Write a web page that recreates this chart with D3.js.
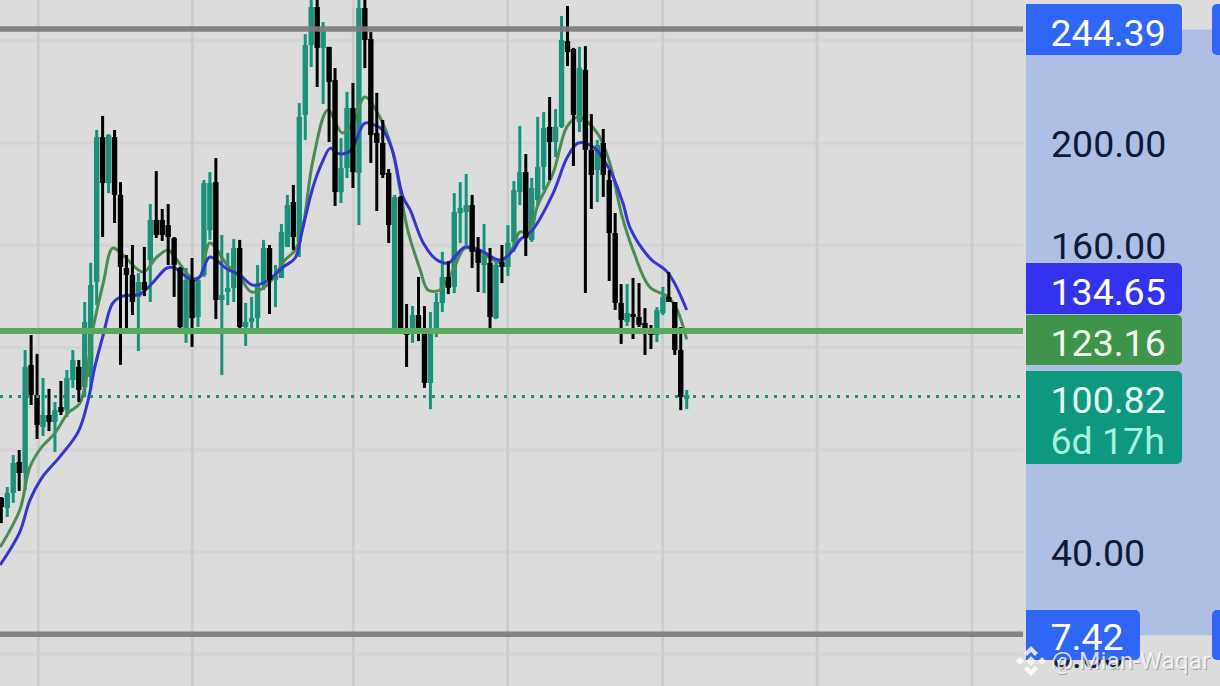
<!DOCTYPE html>
<html><head><meta charset="utf-8">
<script src="https://cdnjs.cloudflare.com/ajax/libs/d3/7.8.5/d3.min.js"></script>
<style>html,body{margin:0;padding:0;background:#dcdcdc;overflow:hidden}svg{display:block}text{font-family:Roboto,sans-serif}</style>
</head><body><svg id="c" width="1220" height="686"></svg>
<script>
// Candle data: 1 = up (teal), 0 = down (black); tops/bottoms are prices.
const ups=[0,1,1,0,1,0,0,1,0,1,0,1,1,0,1,1,1,0,1,0,0,0,0,1,0,1,0,0,0,0,0,1,0,1,1,1,0,1,1,1,0,1,1,1,1,0,1,1,1,0,1,1,1,0,1,0,0,1,1,0,1,0,0,0,0,0,1,0,0,1,0,0,1,1,1,0,1,1,1,0,0,1,0,1,0,1,1,1,0,1,1,1,0,1,1,0,0,1,0,0,1,0,0,0,0,1,0,0,0,0,1,1,0,0,0,1];
const highs=[61.5,65.4,77.9,79.9,119.0,124.9,117.5,108.1,103.8,98.7,106.9,111.2,119.0,115.1,137.8,153.1,205.1,210.6,203.5,205.1,184.7,156.2,160.1,149.1,159.3,176.1,189.0,174.2,176.1,163.2,151.5,151.1,155.0,147.2,185.5,188.6,194.1,164.0,157.0,162.4,162.1,137.4,139.8,152.3,162.1,160.1,152.3,168.3,179.7,183.6,215.6,242.6,257.9,257.9,247.3,237.6,229.3,201.9,220.0,223.5,257.9,257.9,243.4,219.6,209.0,189.8,179.7,179.3,137.0,136.2,147.6,136.2,133.9,141.3,157.4,153.8,180.4,184.7,187.9,179.7,163.2,168.3,158.9,153.4,160.1,167.9,185.1,206.6,195.7,186.3,210.2,212.1,218.0,213.3,249.7,253.6,237.2,237.6,237.9,211.3,201.2,205.5,189.4,172.6,144.8,144.8,147.2,145.2,135.4,128.8,135.8,143.7,149.5,137.8,128.0,103.4];
const bodyTops=[61.1,63.1,74.8,75.2,112.4,113.2,101.4,93.6,93.6,95.5,96.7,108.1,115.1,112.4,130.0,144.4,202.3,202.3,203.1,202.3,179.7,151.1,148.4,145.6,145.6,169.9,169.9,169.9,167.9,162.8,151.1,146.4,146.4,146.4,184.3,184.3,184.7,140.5,143.3,158.9,158.9,130.0,131.5,144.4,158.9,158.9,148.4,165.2,175.7,176.9,210.2,238.3,253.2,253.2,244.2,237.6,224.6,190.2,213.7,213.7,252.8,252.8,240.7,203.9,200.0,188.3,178.9,178.9,126.9,132.7,132.7,126.9,126.1,137.8,147.6,147.6,173.0,174.6,175.7,175.7,158.1,156.2,153.1,152.3,153.4,160.9,181.6,188.6,188.6,182.4,190.6,205.9,206.3,206.3,240.3,239.9,236.8,229.3,228.6,197.3,199.2,200.0,185.5,164.8,137.4,133.5,133.1,131.9,129.6,126.1,134.7,139.8,139.8,137.8,119.0,101.4];
const bodyBottoms=[57.6,57.2,63.1,70.9,70.9,101.4,89.7,88.9,90.9,90.9,94.8,95.5,107.3,103.4,104.5,108.5,145.6,184.3,184.3,179.7,151.5,148.4,137.8,139.8,142.5,154.2,164.0,164.0,163.2,152.3,128.0,126.9,131.5,131.9,148.4,165.9,138.6,138.6,141.7,143.3,128.0,128.0,130.0,131.5,144.4,146.4,146.4,147.2,159.3,163.2,161.3,211.0,238.3,237.2,237.2,223.9,180.8,180.8,190.2,188.6,188.3,240.3,203.1,200.0,187.5,167.9,127.6,127.6,124.9,126.1,126.1,106.1,106.1,127.6,137.4,143.3,143.7,172.6,173.0,157.4,153.1,152.3,131.9,131.5,151.5,151.5,161.3,180.8,162.8,162.1,177.7,190.6,200.4,200.4,206.3,235.6,211.0,208.2,197.3,187.5,189.4,187.5,164.8,137.4,130.8,130.0,131.9,128.8,127.6,124.9,124.9,133.5,137.8,119.0,100.6,99.9];
const lows=[51.3,53.7,59.2,63.9,64.3,97.5,84.2,85.4,87.3,79.1,93.6,92.8,104.2,98.7,100.6,103.4,136.6,163.2,180.4,168.7,113.2,127.6,132.7,118.6,140.1,137.8,162.8,161.7,152.3,139.8,127.6,121.8,120.2,128.0,147.6,162.1,131.1,109.2,136.6,137.8,127.6,120.6,126.9,127.6,142.5,133.1,135.8,147.2,159.3,158.1,155.4,201.2,229.7,221.9,215.3,200.4,175.4,176.5,186.3,182.4,167.9,229.3,192.2,173.4,186.3,160.9,127.6,126.9,112.4,121.8,122.5,104.2,95.9,124.1,133.9,140.9,141.3,160.9,160.1,151.1,141.7,141.3,127.6,131.1,145.2,148.0,157.4,175.7,155.8,161.3,175.7,181.6,185.5,194.5,205.9,230.1,191.0,204.3,141.3,174.2,176.9,178.9,146.0,134.7,121.4,128.4,123.3,128.0,117.1,119.4,122.1,132.7,137.8,117.1,95.5,95.9];

// Moving averages, read at candle positions.
const blueAt=[-0.2,3.1,4.8,6.8,9.8,12.9,14.5,15.7,17.1,18.7,20.4,23.3,25.5,27.8,29.1,32,33.3,35,37.9,40,42.2,44.6,47.3,49.3,50.5,52.3,53.8,55.2,56.3,58,59,61,63,64,65.6,67.4,68.6,70.8,73.1,75,77.8,80.3,83.7,85.9,87,89,92.6,94.9,96.8,99.3,102.1,104.3,105.5,108.8,111.9,115];
const blueVal=[34.9,47.8,60.3,69.0,77.2,87.0,98.7,112.4,124.9,137.4,140.1,140.9,145.6,151.1,151.1,146.4,147.6,155.4,150.7,148.4,144.4,146.0,151.5,155.0,165.9,182.8,192.2,198.0,196.1,196.1,198.4,207.8,206.6,205.1,197.3,178.9,173.8,160.9,154.2,153.1,159.3,158.1,154.2,158.1,162.1,165.6,180.4,194.1,200.0,198.4,189.4,176.5,166.8,155.0,149.1,134.65];
const greenAt=[-0.2,3.1,4.8,6.8,9,11.2,13.2,15.4,17.1,18.7,20.4,23.8,26.1,28,29.1,32,33.3,35,37.9,40,42,44.6,47.6,49.3,50.5,52.3,54.8,57.2,59,61,63.5,65.6,66.9,68.2,70.3,71.6,73.6,75.8,77.8,80.3,83.7,85.9,87,88.7,89.9,92.6,94.9,96.8,100,102.1,104.1,106,108.8,111.9,113.4,115];
const greenVal=[41.9,56.4,73.2,81.1,86.5,94.4,98.3,127.6,145.2,158.9,156.2,149.5,155.4,158.1,155.4,147.2,147.6,160.9,152.3,147.6,141.7,144.4,154.2,158.1,165.9,193.3,212.9,203.9,207.8,218.0,210.2,197.3,181.6,165.9,150.3,142.5,142.5,150.3,158.9,157.4,153.4,159.3,165.2,164.8,175.0,188.3,206.3,210.2,203.9,192.2,171.8,158.1,143.7,139.8,134.7,123.16];

// Price axis, levels, labels
const priceTicks=[240,200,160,120,80,40,0];
const timeGridAt=[6.2,32.05,59.06,84.97,110.97,136.9,162.9];
const greyLevels=[244.39,7.42];
const greenLevel=[126.5];
const lastPrice=[100.82];
const labels=["244.39","134.65","123.16","100.82","7.42"];
const countdown=["6d 17h"];

const W=1220,H=686,plotR=1023,axisL=1026;
const svg=d3.select("#c");
const x=d3.scaleLinear().domain([0,115]).range([1.3,686.7]);
const y=d3.scaleLinear().domain([0,240]).range([654.25,40.75]);
const green="#1f8f7a",black="#000";

svg.append("rect").attr("width",W).attr("height",H).attr("fill","#dcdcdc");

// grid
const grid=svg.append("g").attr("stroke","#cdcdcd").attr("stroke-width",3);
grid.selectAll(".h").data(priceTicks).join("line").attr("x1",0).attr("x2",plotR).attr("y1",d=>y(d)).attr("y2",d=>y(d)).attr("stroke-opacity",.55);
grid.selectAll(".v").data(timeGridAt).join("line").attr("y1",0).attr("y2",H).attr("x1",d=>x(d)).attr("x2",d=>x(d));

// price panel
svg.append("rect").attr("x",axisL).attr("y",y(greyLevels[0])).attr("width",W-axisL).attr("height",y(greyLevels[1])-y(greyLevels[0])).attr("fill","#aebee4");
const axis=d3.axisRight(y).tickValues(priceTicks).tickSize(0).tickPadding(0).tickFormat(d3.format(".2f"));
const ag=svg.append("g").attr("transform","translate(1051,0)").call(axis);
ag.select(".domain").remove();
ag.selectAll("text").attr("fill","#101a35").attr("font-size",37.5).attr("font-family","Roboto,sans-serif").attr("dy",".35em").attr("x",0);

// candles
const candles=ups.map((u,i)=>({i,u,h:highs[i],bt:bodyTops[i],bb:bodyBottoms[i],l:lows[i]}));
function drawCandles(g,data,color,halo){
  const s=g.selectAll("g").data(data).join("g");
  if(halo){
    s.append("rect").attr("x",d=>x(d.i)-3.6).attr("width",7.2).attr("y",d=>y(d.bt)).attr("height",d=>Math.max(1,y(d.bb)-y(d.bt))).attr("fill",halo).attr("opacity",.4);
    s.append("rect").attr("x",d=>x(d.i)-2.4).attr("width",4.8).attr("y",d=>y(d.h)).attr("height",d=>y(d.l)-y(d.h)).attr("fill",halo).attr("opacity",.4);
  }
  s.append("rect").attr("x",d=>x(d.i)-1.5).attr("width",3).attr("y",d=>y(d.h)).attr("height",d=>y(d.l)-y(d.h)).attr("fill",color);
  s.append("rect").attr("x",d=>x(d.i)-2.7).attr("width",5.4).attr("y",d=>y(d.bt)).attr("height",d=>Math.max(2,y(d.bb)-y(d.bt))).attr("fill",color);
}
drawCandles(svg.append("g"),candles.filter(d=>d.u),green,"#a8f5e4");

// moving averages
const line=d3.line().x(d=>x(d[0])).y(d=>y(d[1])).curve(d3.curveCatmullRom.alpha(0.5));
svg.append("path").attr("d",line(d3.zip(greenAt,greenVal))).attr("fill","none").attr("stroke","#4b8b55").attr("stroke-width",3);
svg.append("path").attr("d",line(d3.zip(blueAt,blueVal))).attr("fill","none").attr("stroke","#3636cf").attr("stroke-width",3);

drawCandles(svg.append("g"),candles.filter(d=>!d.u),black,null);

// levels
svg.selectAll(".lvl").data(greyLevels).join("line").attr("x1",0).attr("x2",plotR).attr("y1",d=>y(d)-(d<10?1:0.5)).attr("y2",d=>y(d)-(d<10?1:0.5)).attr("stroke","#7c7c7c").attr("stroke-width",5.5).attr("opacity",.92);
svg.selectAll(".gl").data(greenLevel).join("line").attr("x1",0).attr("x2",plotR).attr("y1",d=>y(d)).attr("y2",d=>y(d)).attr("stroke","#58aa5c").attr("stroke-width",6);
svg.selectAll(".lp").data(lastPrice).join("line").attr("x1",0).attr("x2",1021).attr("y1",d=>y(d)).attr("y2",d=>y(d)).attr("stroke",green).attr("stroke-width",3).attr("stroke-dasharray","3 6");

// label boxes
function box(top,bot,right,fill){
  svg.append("path").attr("fill",fill).attr("d",`M${axisL},${top}H${right-5}a5,5 0 0 1 5,5V${bot-5}a5,5 0 0 1 -5,5H${axisL}Z`);
}
function boxLeft(top,bot){
  svg.append("path").attr("fill","#2f66f5").attr("d",`M${W},${top}H1217a5,5 0 0 0 -5,5V${bot-5}a5,5 0 0 0 5,5H${W}Z`);
}
function label(txt,cy,fill){
  svg.append("text").attr("x",1050.5).attr("y",cy).attr("dy",".36em").attr("font-size",37.5).attr("fill",fill).text(txt);
}
box(4,55,1182,"#2f66f5"); label(labels[0],32,"#fff");
boxLeft(4,55);
box(263,314,1182,"#3333ee"); label(labels[1],291,"#fff");
box(315,365,1182,"#3e9448"); label(labels[2],342,"#f2fff0");
box(371,464,1182,"#0f9880"); label(labels[3],399,"#e4fff8"); label(countdown[0],440,"#a6f2de");
box(610,660,1140,"#2f66f5"); label(labels[4],636,"#fff");
boxLeft(610,660);

// watermark
const wm=svg.append("g").attr("transform","translate(1031,661)").attr("fill","#fff").attr("fill-opacity",.82);
wm.append("path").attr("d","M0,-5L5,0L0,5L-5,0Z M0,-15L7,-8L4,-5L0,-9L-4,-5L-7,-8Z M0,15L7,8L4,5L0,9L-4,5L-7,8Z M-15,0L-11,-4L-7,0L-11,4Z M15,0L11,-4L7,0L11,4Z");
svg.append("text").attr("x",1051).attr("y",669).attr("font-size",24.5).attr("fill","#555").attr("fill-opacity",.45).attr("transform","translate(1,1)").text("@ Mian-Waqar");
svg.append("text").attr("x",1051).attr("y",669).attr("font-size",24.5).attr("fill","#fff").attr("fill-opacity",.78).text("@ Mian-Waqar");
</script></body></html>
